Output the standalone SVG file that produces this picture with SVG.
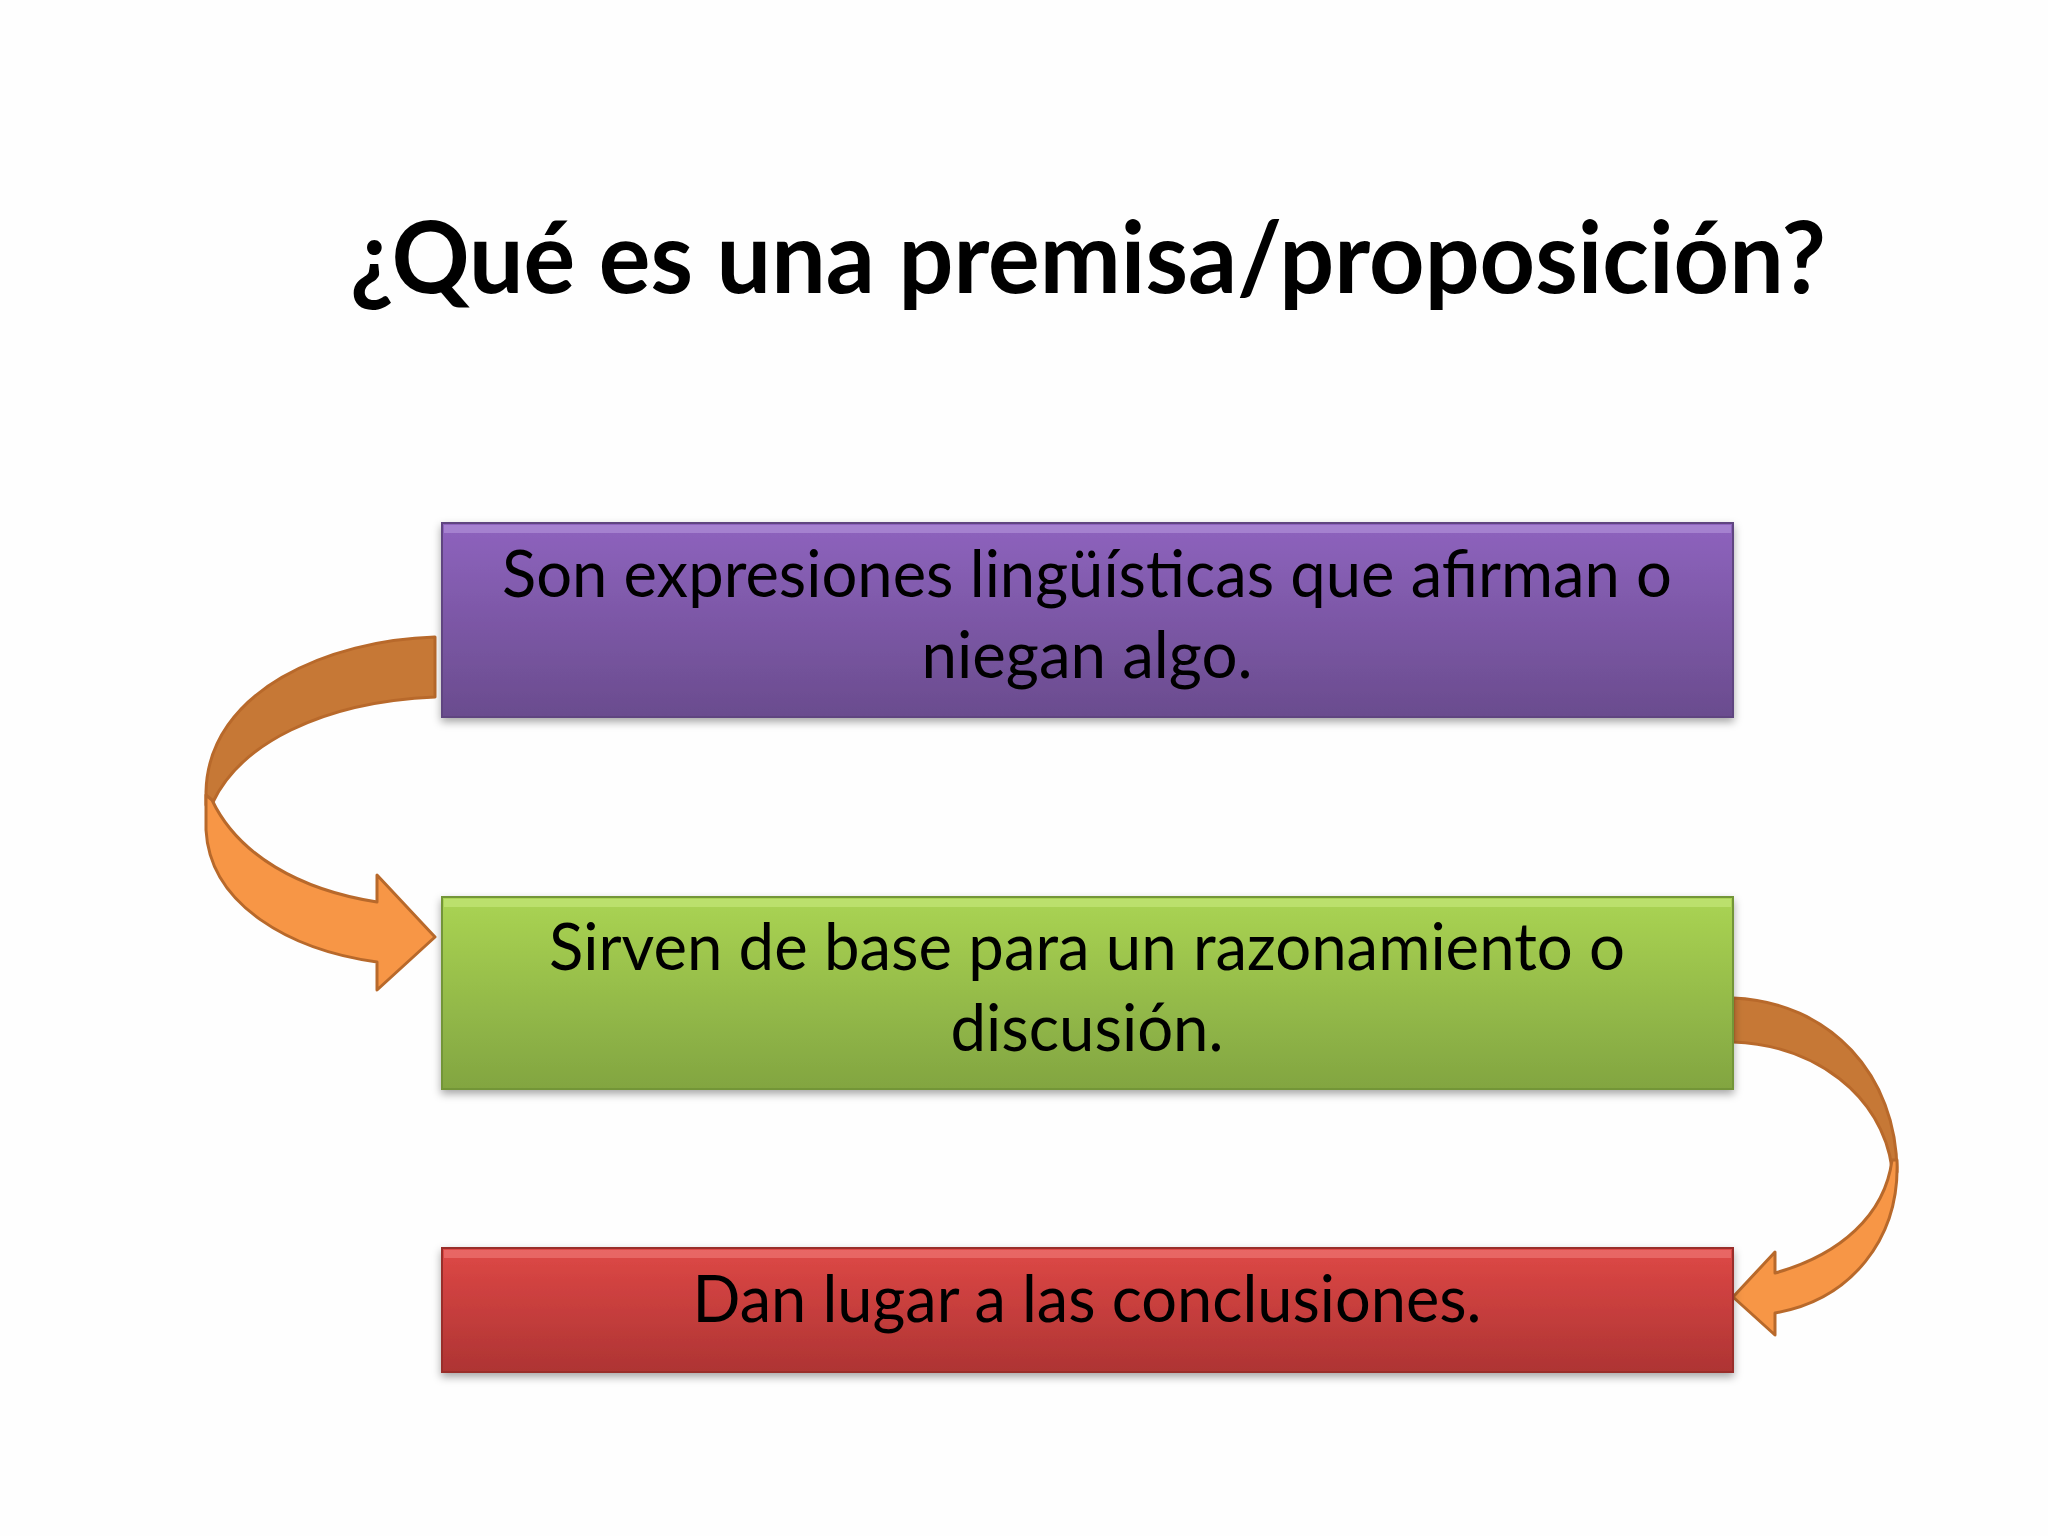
<svg xmlns="http://www.w3.org/2000/svg" width="2048" height="1536" viewBox="0 0 2048 1536">
<style>
.title{font-family:Lato,"Open Sans","Liberation Sans",sans-serif;font-weight:bold;font-size:100px;fill:#000}
.lbl{font-family:Lato,"Open Sans","Liberation Sans",sans-serif;font-size:66px;fill:#000;text-anchor:middle}
.dark{fill:#C67836;stroke:#B8692B;stroke-width:3;stroke-linejoin:round}
.light{fill:#F79646;stroke:#B8692B;stroke-width:3;stroke-linejoin:round}
</style>
<defs>
<linearGradient id="gPur" x1="0" y1="0" x2="0" y2="1">
<stop offset="0" stop-color="#8E63BE"/><stop offset="1" stop-color="#6A4C8E"/>
</linearGradient>
<linearGradient id="gGrn" x1="0" y1="0" x2="0" y2="1">
<stop offset="0" stop-color="#AAD453"/><stop offset="1" stop-color="#82A541"/>
</linearGradient>
<linearGradient id="gRed" x1="0" y1="0" x2="0" y2="1">
<stop offset="0" stop-color="#DE4846"/><stop offset="1" stop-color="#AE3433"/>
</linearGradient>
<filter id="sh" x="-5%" y="-10%" width="110%" height="130%">
<feDropShadow dx="0" dy="4" stdDeviation="4" flood-color="#000" flood-opacity="0.35"/>
</filter>
</defs>
<rect width="2048" height="1536" fill="#FEFEFE"/>
<text class="title" x="350" y="293" textLength="1476" lengthAdjust="spacingAndGlyphs">¿Qué es una premisa/proposición?</text>
<g id="connectors">
<g id="arrow1">
<path class="dark" d="M435,637 C330,640 208,690 206,792 L206,805 L213,802 C240,745 320,702 435,697 Z"/>
<path class="light" d="M206,795 L206,830 C210,905 290,950 377,962 L377,990 L435,937 L377,875 L377,902 C300,890 238,855 212,800 Z"/>
</g>
<g id="arrow2">
<path class="dark" d="M1733,998 C1830,1002 1897,1075 1897,1172 L1892,1168 C1882,1095 1815,1045 1733,1042 Z"/>
<path class="light" d="M1897,1160 C1900,1240 1850,1300 1775,1313 L1775,1335 L1733,1297 L1775,1252 L1775,1273 C1840,1255 1885,1215 1892,1160 Z"/>
</g>
</g>
<g id="node1">
<rect x="442" y="523" width="1291" height="194" fill="url(#gPur)" stroke="#5E4580" stroke-width="2" filter="url(#sh)"/>
<rect x="444" y="525" width="1287" height="8" fill="#B596DC" opacity="0.6"/>
<text class="lbl" x="1087" y="597" textLength="1170" lengthAdjust="spacingAndGlyphs">Son expresiones lingüísticas que afirman o</text>
<text class="lbl" x="1087" y="678" textLength="331" lengthAdjust="spacingAndGlyphs">niegan algo.</text>
</g>
<g id="node2">
<rect x="442" y="897" width="1291" height="192" fill="url(#gGrn)" stroke="#739538" stroke-width="2" filter="url(#sh)"/>
<rect x="444" y="899" width="1287" height="8" fill="#C8EA7E" opacity="0.6"/>
<text class="lbl" x="1087" y="970" textLength="1076" lengthAdjust="spacingAndGlyphs">Sirven de base para un razonamiento o</text>
<text class="lbl" x="1087" y="1051" textLength="273" lengthAdjust="spacingAndGlyphs">discusión.</text>
</g>
<g id="node3">
<rect x="442" y="1248" width="1291" height="124" fill="url(#gRed)" stroke="#992D2C" stroke-width="2" filter="url(#sh)"/>
<rect x="444" y="1250" width="1287" height="8" fill="#F07C7A" opacity="0.6"/>
<text class="lbl" x="1087" y="1322" textLength="789" lengthAdjust="spacingAndGlyphs">Dan lugar a las conclusiones.</text>
</g>
</svg>
